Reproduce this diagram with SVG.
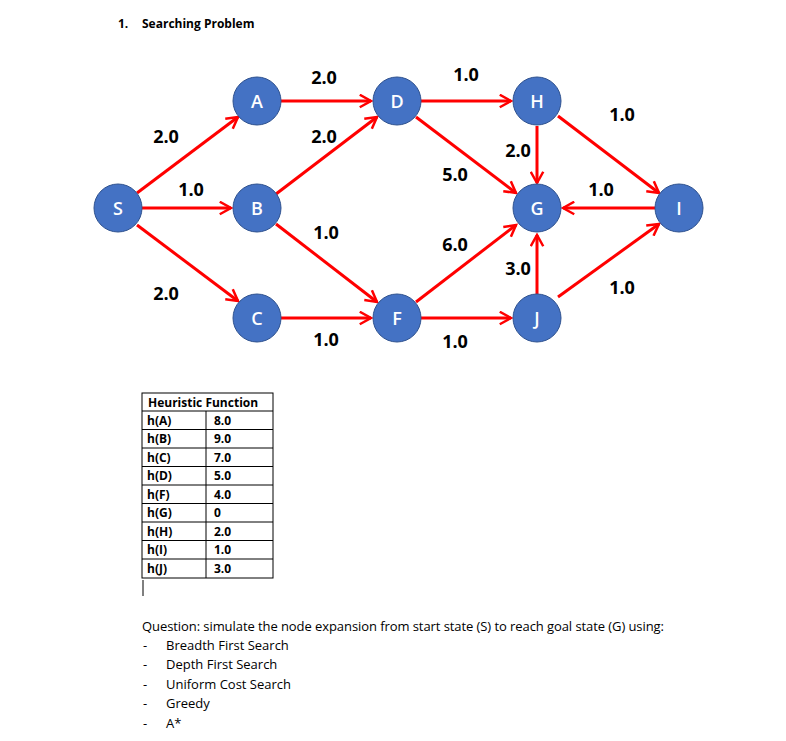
<svg xmlns="http://www.w3.org/2000/svg" width="786" height="741" viewBox="0 0 786 741">
<style>
.n{fill:#4472c4;stroke:#2f528f;stroke-width:1}
.nl{fill:#fff;font:600 18px "Open Sans","Liberation Sans",Arial,sans-serif;text-anchor:middle}
.e{stroke:#ff0000;stroke-width:3;fill:none;marker-end:url(#ah)}
.w{font:bold 18px "Open Sans","Liberation Sans",sans-serif;fill:#000;text-anchor:middle}
.t{font:13px "Open Sans","Liberation Sans",sans-serif;fill:#000}
.tb{font:bold 12px "Open Sans","Liberation Sans",sans-serif;fill:#000}
.g line,.g rect{stroke:#000;stroke-width:1;fill:none}
</style>
<defs>
<marker id="ah" viewBox="0 0 12 12" refX="10" refY="6" markerWidth="5" markerHeight="5" orient="auto" markerUnits="strokeWidth">
<path d="M1,1 L10,6 L1,11" fill="none" stroke="#ff0000" stroke-width="2"/>
</marker>
</defs>
<rect width="786" height="741" fill="#fff"/>
<text x="118" y="28" class="tb">1.</text>
<text x="142" y="28" class="tb">Searching Problem</text>
<g id="connectors">
<line class="e" x1="137" y1="193" x2="238" y2="117"/>
<line class="e" x1="142" y1="208" x2="231" y2="208"/>
<line class="e" x1="137" y1="225" x2="238" y2="301"/>
<line class="e" x1="281" y1="101" x2="371" y2="101"/>
<line class="e" x1="276" y1="194" x2="377" y2="117"/>
<line class="e" x1="276" y1="224" x2="377" y2="302"/>
<line class="e" x1="281" y1="318" x2="371" y2="318"/>
<line class="e" x1="421" y1="101" x2="511" y2="101"/>
<line class="e" x1="416" y1="117" x2="516" y2="193"/>
<line class="e" x1="416" y1="302" x2="516" y2="225"/>
<line class="e" x1="421" y1="318" x2="511" y2="318"/>
<line class="e" x1="537" y1="126" x2="537" y2="183"/>
<line class="e" x1="537" y1="294" x2="537" y2="235"/>
<line class="e" x1="655" y1="208" x2="563" y2="208"/>
<line class="e" x1="558" y1="116" x2="659" y2="193"/>
<line class="e" x1="558" y1="297" x2="659" y2="224"/>
</g>
<g id="edge-labels">
<text class="w" x="166" y="143">2.0</text>
<text class="w" x="191" y="196">1.0</text>
<text class="w" x="166" y="300">2.0</text>
<text class="w" x="324" y="84">2.0</text>
<text class="w" x="324" y="143">2.0</text>
<text class="w" x="326" y="239">1.0</text>
<text class="w" x="326" y="346">1.0</text>
<text class="w" x="466" y="81">1.0</text>
<text class="w" x="455" y="181">5.0</text>
<text class="w" x="455" y="251">6.0</text>
<text class="w" x="455" y="348">1.0</text>
<text class="w" x="518" y="157">2.0</text>
<text class="w" x="518" y="275">3.0</text>
<text class="w" x="601" y="196">1.0</text>
<text class="w" x="622" y="121">1.0</text>
<text class="w" x="622" y="294">1.0</text>
</g>
<g id="S"><circle class="n" cx="118" cy="208" r="24"/><text class="nl" x="118" y="215">S</text></g>
<g id="A"><circle class="n" cx="257" cy="101" r="24"/><text class="nl" x="257" y="108">A</text></g>
<g id="B"><circle class="n" cx="257" cy="208" r="24"/><text class="nl" x="257" y="215">B</text></g>
<g id="C"><circle class="n" cx="257" cy="318" r="24"/><text class="nl" x="257" y="325">C</text></g>
<g id="D"><circle class="n" cx="397" cy="101" r="24"/><text class="nl" x="397" y="108">D</text></g>
<g id="F"><circle class="n" cx="397" cy="318" r="24"/><text class="nl" x="397" y="325">F</text></g>
<g id="H"><circle class="n" cx="537" cy="101" r="24"/><text class="nl" x="537" y="108">H</text></g>
<g id="G"><circle class="n" cx="537" cy="208" r="24"/><text class="nl" x="537" y="215">G</text></g>
<g id="J"><circle class="n" cx="537" cy="318" r="24"/><text class="nl" x="537" y="325">J</text></g>
<g id="I"><circle class="n" cx="679" cy="208" r="24"/><text class="nl" x="679" y="215">I</text></g>
<g id="table" class="g">
<rect x="142" y="393" width="131" height="185"/>
<line x1="142" y1="411" x2="273" y2="411"/>
<line x1="206" y1="411" x2="206" y2="578"/>
<line x1="142" y1="429.5" x2="273" y2="429.5"/>
<line x1="142" y1="448" x2="273" y2="448"/>
<line x1="142" y1="466.5" x2="273" y2="466.5"/>
<line x1="142" y1="485" x2="273" y2="485"/>
<line x1="142" y1="503.5" x2="273" y2="503.5"/>
<line x1="142" y1="522" x2="273" y2="522"/>
<line x1="142" y1="540.5" x2="273" y2="540.5"/>
<line x1="142" y1="559" x2="273" y2="559"/>
<line x1="143" y1="580" x2="143" y2="596"/>
<text class="tb" x="148" y="407">Heuristic Function</text>
<text class="tb" x="147" y="425">h(A)</text><text class="tb" x="214" y="425">8.0</text>
<text class="tb" x="147" y="443">h(B)</text><text class="tb" x="214" y="443">9.0</text>
<text class="tb" x="147" y="462">h(C)</text><text class="tb" x="214" y="462">7.0</text>
<text class="tb" x="147" y="480">h(D)</text><text class="tb" x="214" y="480">5.0</text>
<text class="tb" x="147" y="499">h(F)</text><text class="tb" x="214" y="499">4.0</text>
<text class="tb" x="147" y="517">h(G)</text><text class="tb" x="214" y="517">0</text>
<text class="tb" x="147" y="536">h(H)</text><text class="tb" x="214" y="536">2.0</text>
<text class="tb" x="147" y="554">h(I)</text><text class="tb" x="214" y="554">1.0</text>
<text class="tb" x="147" y="573">h(J)</text><text class="tb" x="214" y="573">3.0</text>
</g>
<text class="t" x="142" y="631" textLength="522">Question: simulate the node expansion from start state (S) to reach goal state (G) using:</text>
<text class="t" x="143" y="650">-</text><text class="t" x="166" y="650">Breadth First Search</text>
<text class="t" x="143" y="669">-</text><text class="t" x="166" y="669">Depth First Search</text>
<text class="t" x="143" y="689">-</text><text class="t" x="166" y="689">Uniform Cost Search</text>
<text class="t" x="143" y="708">-</text><text class="t" x="166" y="708">Greedy</text>
<text class="t" x="143" y="728">-</text><text class="t" x="166" y="728">A*</text>
</svg>
